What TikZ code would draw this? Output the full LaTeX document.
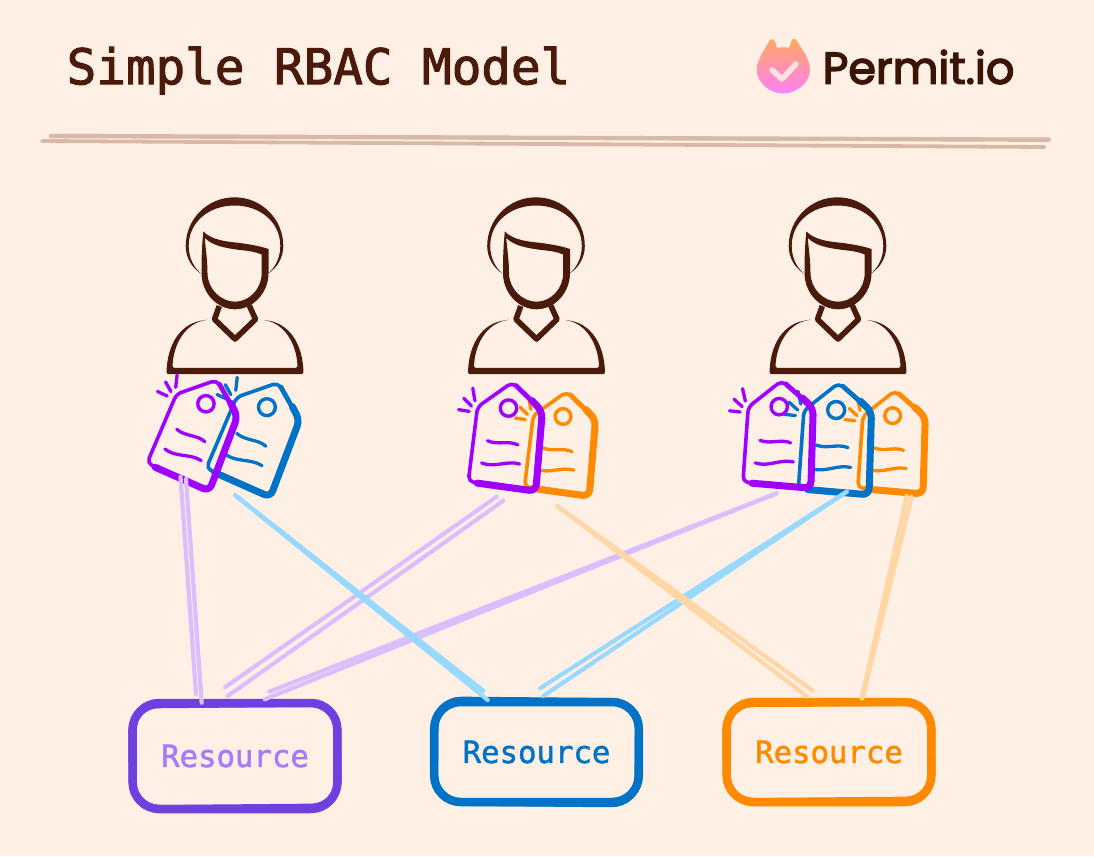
\documentclass[tikz,border=0pt]{standalone}
\usepackage{fontspec}
\newfontfamily\titlefont[FakeBold=2.2]{DejaVu Sans Mono}
\newfontfamily\resfont[FakeBold=1.6]{DejaVu Sans Mono}
\newfontfamily\logofont[FakeBold=3.2]{Poppins}
\definecolor{bgc}{HTML}{FFF0E6}
\definecolor{ink}{HTML}{4A1A0A}
\definecolor{brandink}{HTML}{3A1505}
\definecolor{rule}{HTML}{D9B8A8}
\definecolor{tagp}{HTML}{A000FF}
\definecolor{tagb}{HTML}{0073C8}
\definecolor{tago}{HTML}{FF8A00}
\definecolor{linkp}{HTML}{DABFFF}
\definecolor{linkb}{HTML}{99D8FF}
\definecolor{linko}{HTML}{FFD6A5}
\definecolor{resp}{HTML}{6F3FE0}
\definecolor{restext}{HTML}{A57BFA}
\definecolor{logotop}{HTML}{FFA95C}
\definecolor{logobot}{HTML}{FF80FA}
\definecolor{logotick}{HTML}{FFE3E3}
\tikzset{
  px/.style={line width=#1*0.75pt},
  link/.style={px=4.2,line cap=round},
  resbox/.style={draw=#1,px=8.5,rounded corners=20pt,minimum height=75pt,minimum width=153.5pt,inner sep=0pt,outer sep=0pt,
    font=\resfont\fontsize{23}{23}\selectfont},
  resedge/.style={draw=#1,px=7.5,rounded corners=20pt},
  sparkline/.style={px=3.3,line cap=round},
}
\newcommand{\personfig}[1]{%
\begin{scope}[shift={(#1,0)}]
\fill[ink] (201.5,274) .. controls (192,268) and (185.7,258) .. (185.7,246)
  .. controls (185.7,219) and (207.5,197.3) .. (234.5,197.3)
  .. controls (261.5,197.3) and (283.3,219) .. (283.3,246)
  .. controls (283.3,258) and (277,268) .. (267.5,274)
  .. controls (275,268) and (280.3,258) .. (280.3,246)
  .. controls (280.3,222) and (260,205.5) .. (234.5,205.5)
  .. controls (209,205.5) and (188.7,222) .. (188.7,246)
  .. controls (188.7,258) and (194,268) .. (201.5,274) -- cycle;
\fill[ink,even odd rule] (203.3,231.5) .. controls (212,240) and (225,241.5) .. (240,243)
  .. controls (250,244.5) and (260,246) .. (268.5,249) -- (268.5,273)
  .. controls (268.5,293) and (253,309.3) .. (235,309.3)
  .. controls (217,309.3) and (201.5,293) .. (201.5,273)
  .. controls (201.5,255) and (202,245) .. (203.3,231.5) -- cycle
  (204.8,238) .. controls (213,246) and (225,248) .. (240,250)
  .. controls (250,251) and (256,252) .. (261.7,254.5) -- (261.7,273)
  .. controls (261.7,289) and (249,301.7) .. (235,301.7)
  .. controls (221,301.7) and (207.5,289) .. (207.5,273)
  .. controls (207.5,260) and (205.5,248) .. (204.8,238) -- cycle;
\draw[ink,px=5.6,line join=round] (219.3,306) -- (214.5,319.3) -- (235,339) -- (255.5,319.3) -- (249.3,305.5);
\fill[ink,rounded corners=1pt] (207,320) .. controls (180,322) and (167,345) .. (166.5,374) -- (303.5,374)
  .. controls (303,345) and (290,322) .. (263,320)
  .. controls (285,323) and (297,345) .. (297.5,367.8) -- (172.5,367.8)
  .. controls (173,345) and (185,323) .. (207,320) -- cycle;
\end{scope}}
\newcommand{\tagfig}[4]{%
\begin{scope}[shift={(#1,#2)},rotate=#3,#4]
\draw[px=3.6,rounded corners=4pt,line join=round] (0,0) -- (32,27) -- (31,107) -- (-37,102) -- (-33,27) -- cycle;
\draw[px=4.8,rounded corners=4pt,line cap=round,line join=round] (4,3) -- (32,27) -- (31,60);
\draw[px=7,rounded corners=5pt,line cap=round,line join=round] (21,17) -- (32,27) -- (31,107) -- (-28,103);
\draw[px=3.4] (-2,26) circle[radius=8.2];
\draw[sparkline] (-20.7,60) .. controls (-10,64) and (0,58) .. (10,62);
\draw[sparkline] (-25,82.6) .. controls (-12,87) and (0,78) .. (13,81);
\draw[sparkline] (-51.7,31) -- (-41,32);
\draw[sparkline] (-47.4,19.3) -- (-39,26.6);
\draw[sparkline] (-39,8.6) -- (-36,21);
\end{scope}}
\begin{document}
\begin{tikzpicture}[x=0.75pt,y=-0.75pt]
\fill[bgc] (0,0) rectangle (1094,856);
\useasboundingbox (0,0) rectangle (1094,856);
\node[text=ink,font=\titlefont\fontsize{36.9}{37}\selectfont,inner sep=0pt] (title) at (318.5,70.5) {Simple RBAC Model};
\shade[top color=logotop,bottom color=logobot,shading angle=0]
  (783,93.5) .. controls (770,93.5) and (757,83) .. (757,70)
  .. controls (757,58) and (765,50) .. (769,41)
  .. controls (771,38) and (774,39) .. (775,42) -- (777,48)
  .. controls (781,47) and (785,47) .. (789,48) -- (791,42)
  .. controls (792,38) and (796,38) .. (797,41)
  .. controls (802,50) and (810,58) .. (810,70)
  .. controls (810,83) and (796,93.5) .. (783,93.5) -- cycle;
\draw[logotick,px=5.5,line cap=round,line join=round] (772,70) -- (782,79) -- (796,64);
\node[text=brandink,font=\logofont\fontsize{33.4}{33}\selectfont,inner sep=0pt] (brand) at (918.5,67) {Permit.io};
\coordinate (ruleA) at (51,136);
\coordinate (ruleB) at (1049,139.7);
\coordinate (ruleC) at (42,141);
\coordinate (ruleD) at (1044.5,147);
\draw[rule,px=4.4,line cap=round] (ruleA) -- (ruleB);
\draw[rule,px=3.8,line cap=round] (ruleC) -- (ruleD);
\personfig{0}
\personfig{301.5}
\personfig{603}
\tagfig{278}{382.7}{-20}{tagb,scale=1.03}
\tagfig{216.7}{380}{-20}{tagp}
\tagfig{566.7}{391.7}{-4}{tago,scale=.96}
\tagfig{512.3}{382.3}{-4}{tagp}
\tagfig{895}{390.7}{-1}{tago,scale=.96}
\tagfig{838.7}{383}{-1}{tagb,scale=1.04}
\tagfig{781.7}{380.7}{-1}{tagp}
\node[resbox=resp,text=restext,minimum height=79.5pt] (res1) at (235,756) {Resource};
\node[resbox=tagb,text=tagb] (res2) at (536.5,752) {Resource};
\node[resbox=tago,text=tago] (res3) at (829,752) {Resource};
\draw[resedge=resp,rotate around={0.5:(res1.center)}] (res1.south west) rectangle (res1.north east);
\draw[resedge=tagb,rotate around={-0.5:(res2.center)}] (res2.south west) rectangle (res2.north east);
\draw[resedge=tago,rotate around={0.5:(res3.center)}] (res3.south west) rectangle (res3.north east);
\coordinate (p1a) at (180.5,477); \coordinate (p1b) at (186,479);
\coordinate (r1a) at (196,694);   \coordinate (r1b) at (201.7,702.7);
\coordinate (b1a) at (235,495);   \coordinate (b1b) at (236,496);
\coordinate (r2a) at (483.3,690.7); \coordinate (r2b) at (487.7,700);
\coordinate (p2a) at (496.7,496.7); \coordinate (p2b) at (503.3,500.7);
\coordinate (r1c) at (225,687.3); \coordinate (r1d) at (227.7,696);
\coordinate (o2) at (557.3,506);
\coordinate (r3a) at (812.7,690.7); \coordinate (r3b) at (807.3,696.7);
\coordinate (p3) at (776.7,493.3);
\coordinate (r1e) at (269.3,691.7); \coordinate (r1f) at (264.7,699.3);
\coordinate (b3) at (846.7,491.7);
\coordinate (r2c) at (540,688.3); \coordinate (r2d) at (543.3,696);
\coordinate (o3a) at (906.7,496); \coordinate (o3b) at (911.7,496.7);
\coordinate (r3c) at (861.7,698.3); \coordinate (r3d) at (862.5,698.3);
\draw[link,linkp] (p1a) -- (r1a); \draw[link,linkp] (p1b) -- (r1b);
\draw[link,linkp] (p2a) -- (r1c); \draw[link,linkp] (p2b) -- (r1d);
\draw[link,linkp] (p3) -- (r1e);  \draw[link,linkp] (p3) -- (r1f);
\draw[link,linkb] (b1a) -- (r2a); \draw[link,linkb] (b1b) -- (r2b);
\draw[link,linkb] (b3) -- (r2c);  \draw[link,linkb] (b3) -- (r2d);
\draw[link,linko] (o2) -- (r3a);  \draw[link,linko] (o2) -- (r3b);
\draw[link,linko] (o3a) -- (r3c); \draw[link,linko] (o3b) -- (r3d);
\end{tikzpicture}
\end{document}
